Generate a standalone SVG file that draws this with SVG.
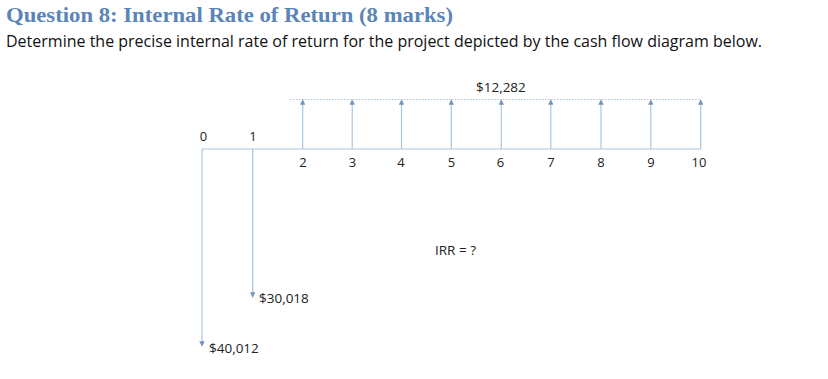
<svg xmlns="http://www.w3.org/2000/svg" width="828" height="379" viewBox="0 0 828 379">
<defs>
<marker id="ah" viewBox="0 0 6 6" refX="3" refY="3" markerWidth="4.5" markerHeight="4.5" orient="auto">
<path d="M0,0 L6,3 L0,6 Z" fill="#6f95c0"/>
</marker>
<style>
.ln{stroke:#a9c5de;stroke-width:1.2;fill:none}
.ar{stroke:#a9c5de;stroke-width:1.2;fill:none;marker-end:url(#ah)}
.dot{stroke:#a9c5de;stroke-width:1;stroke-dasharray:1.5 1.5;fill:none}
.lb{font-family:"Open Sans","Liberation Sans",sans-serif;font-size:13.5px;fill:#222}
.num{font-family:"Open Sans","Liberation Sans",sans-serif;font-size:13px;fill:#222;text-anchor:middle}
</style>
</defs>
<rect width="828" height="379" fill="#fff"/>
<text x="6" y="22" font-family="'Liberation Serif',serif" font-weight="bold" font-size="22" fill="#5b84b8" textLength="447" lengthAdjust="spacingAndGlyphs">Question 8: Internal Rate of Return (8 marks)</text>
<text x="6" y="47" font-family="'Open Sans','Liberation Sans',sans-serif" font-size="15.5" fill="#111" textLength="756" lengthAdjust="spacingAndGlyphs">Determine the precise internal rate of return for the project depicted by the cash flow diagram below.</text>
<g id="connectors">
<line class="ln" x1="202" y1="149" x2="701" y2="149"/>
<line class="dot" x1="290" y1="99.5" x2="701" y2="99.5"/>
<line class="ar" x1="202" y1="149" x2="202" y2="344"/>
<line class="ar" x1="252.7" y1="149" x2="252.7" y2="295"/>
<line class="ar" x1="302.7" y1="149" x2="302.7" y2="102"/>
<line class="ar" x1="352.2" y1="149" x2="352.2" y2="102"/>
<line class="ar" x1="401.5" y1="149" x2="401.5" y2="102"/>
<line class="ar" x1="451.3" y1="149" x2="451.3" y2="102"/>
<line class="ar" x1="501.3" y1="149" x2="501.3" y2="102"/>
<line class="ar" x1="550.8" y1="149" x2="550.8" y2="102"/>
<line class="ar" x1="601" y1="149" x2="601" y2="102"/>
<line class="ar" x1="650.8" y1="149" x2="650.8" y2="102"/>
<line class="ar" x1="700.7" y1="149" x2="700.7" y2="102"/>
</g>
<g id="t0"><text class="num" x="203.5" y="141">0</text></g>
<g id="t1"><text class="num" x="253" y="141">1</text></g>
<g id="t2"><text class="num" x="303" y="167">2</text></g>
<g id="t3"><text class="num" x="352.5" y="167">3</text></g>
<g id="t4"><text class="num" x="401" y="167">4</text></g>
<g id="t5"><text class="num" x="451.5" y="167">5</text></g>
<g id="t6"><text class="num" x="500.5" y="167">6</text></g>
<g id="t7"><text class="num" x="551" y="167">7</text></g>
<g id="t8"><text class="num" x="601" y="167">8</text></g>
<g id="t9"><text class="num" x="651" y="167">9</text></g>
<g id="t10"><text class="num" x="699" y="167">10</text></g>
<g id="inflow"><text class="lb" x="476" y="92">$12,282</text></g>
<g id="irr"><text class="lb" x="435" y="255">IRR = ?</text></g>
<g id="out1"><text class="lb" x="259" y="303">$30,018</text></g>
<g id="out0"><text class="lb" x="209" y="353">$40,012</text></g>
</svg>
